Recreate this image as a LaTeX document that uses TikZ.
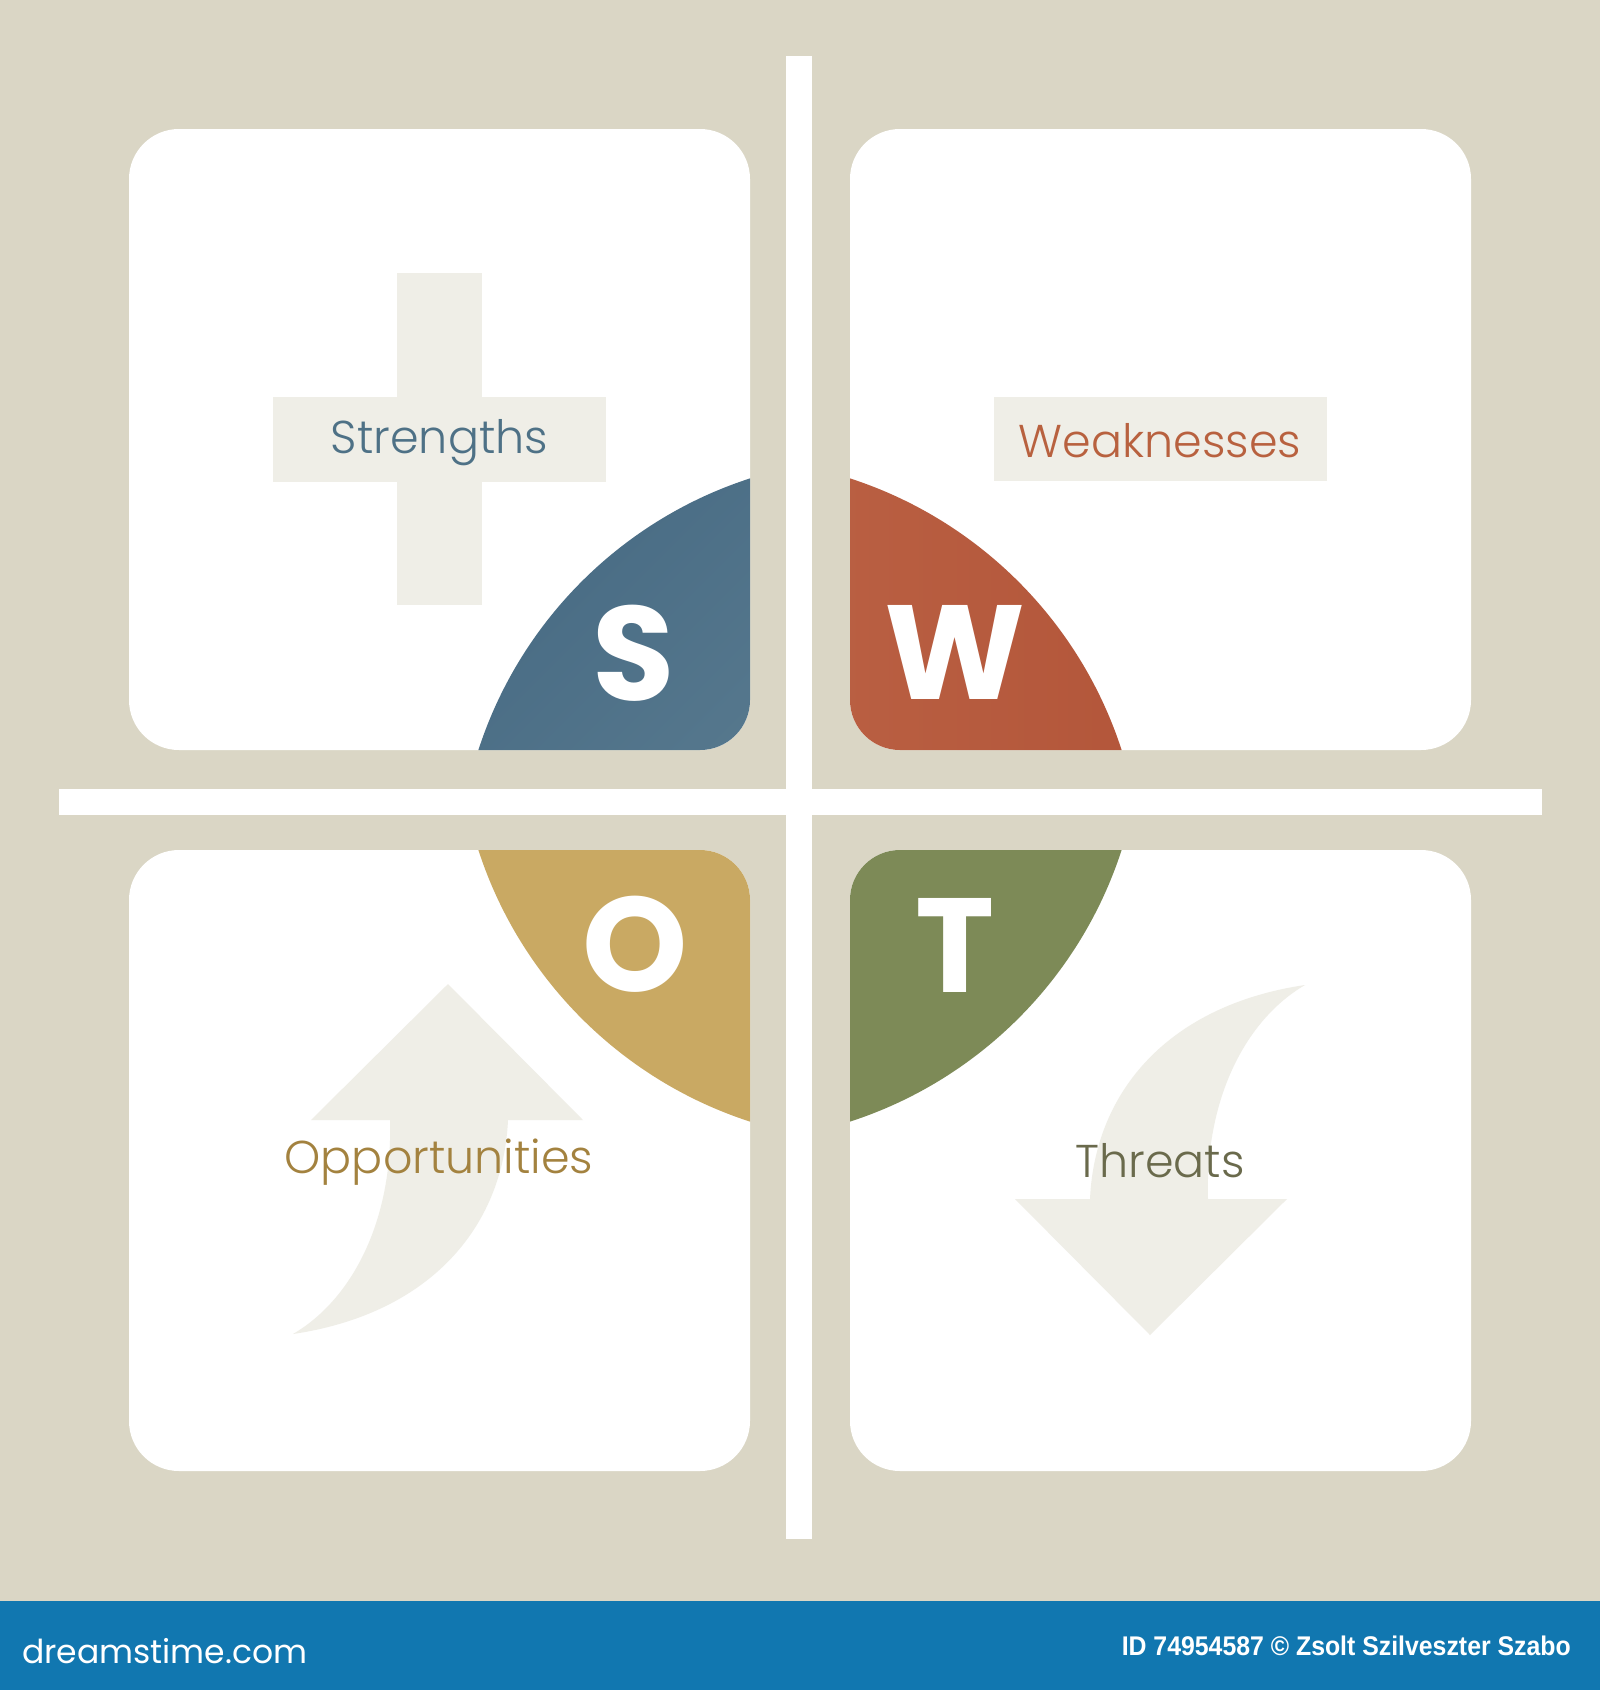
\documentclass[tikz,border=0pt]{standalone}
\usepackage{fontspec}
\newfontfamily\poplight{Poppins Light}
\newfontfamily\pop{Poppins}
\newfontfamily\idfont{Liberation Sans}
\definecolor{bgbeige}{HTML}{DAD6C5}
\definecolor{pale}{HTML}{EFEEE7}
\definecolor{sdark}{HTML}{4B6E86}
\definecolor{smid}{HTML}{4F7289}
\definecolor{slight}{HTML}{7291A0}
\definecolor{wleft}{HTML}{C46F50}
\definecolor{wright}{HTML}{B3563A}
\definecolor{ocol}{HTML}{C9A963}
\definecolor{tcol}{HTML}{7D8A57}
\definecolor{stxt}{HTML}{4E7186}
\definecolor{wtxt}{HTML}{B8613F}
\definecolor{otxt}{HTML}{A3823F}
\definecolor{ttxt}{HTML}{6A6A4C}
\definecolor{barblue}{HTML}{1177B0}
\begin{document}
\begin{tikzpicture}[x=1pt,y=-1pt,
  panel/.style={fill=white, rounded corners=50pt},
  label/.style={inner sep=0pt, anchor=base, font=\poplight\fontsize{46}{46}\selectfont},
  letter/.style={inner sep=0pt, anchor=base, text=white, font=\pop\bfseries\fontsize{134}{134}\selectfont},
  paleshape/.style={fill=pale}]
\useasboundingbox (0,0) rectangle (1600,1690);
\fill[bgbeige] (0,0) rectangle (1600,1690);
% dividing lines
\fill[white] (786,56) rectangle (812,1539);
\fill[white] (59,789) rectangle (1542,815);
% panels
\fill[panel] (129,129) rectangle (750,750);
\fill[panel] (850,129) rectangle (1471,750);
\fill[panel] (129,850) rectangle (750,1471);
\fill[panel] (850,850) rectangle (1471,1471);
% pale decorations
\fill[paleshape] (397,273) rectangle (482,605);
\fill[paleshape] (273,397) rectangle (606,482);
\fill[paleshape] (994,397) rectangle (1327,481);
\fill[paleshape] (1015,1199) -- (1090,1199) .. controls (1095,1090) and (1170,1005) .. (1305,985)
   .. controls (1245,1020) and (1205,1100) .. (1208,1199) -- (1287,1199) -- (1150,1335) -- cycle;
\fill[paleshape, rotate around={180:(799,1159.5)}] (1015,1199) -- (1090,1199) .. controls (1095,1090) and (1170,1005) .. (1305,985)
   .. controls (1245,1020) and (1205,1100) .. (1208,1199) -- (1287,1199) -- (1150,1335) -- cycle;
% quarter shapes
\begin{scope}
\clip[rounded corners=50pt] (129,129) rectangle (750,750);
\shade[shading=axis, top color=sdark, middle color=smid, bottom color=slight, shading angle=45] (880,880) circle[radius=422];
\end{scope}
\begin{scope}
\clip[rounded corners=50pt] (850,129) rectangle (1471,750);
\shade[left color=wleft, right color=wright] (720,880) circle[radius=422];
\end{scope}
\begin{scope}
\clip[rounded corners=50pt] (129,850) rectangle (750,1471);
\fill[ocol] (880,720) circle[radius=422];
\end{scope}
\begin{scope}
\clip[rounded corners=50pt] (850,850) rectangle (1471,1471);
\fill[tcol] (720,720) circle[radius=422];
\end{scope}
% letters
\node[letter] (S) at (634,700) {S};
\node[letter] (W) at (955,699) {W};
\node[letter] (O) at (635,991) {O};
\node[letter] (T) at (955,992) {T};
% labels
\node[label, text=stxt] (strengths) at (439.5,453) {Strengths};
\node[label, text=wtxt] (weak) at (1160,457) {Weaknesses};
\node[label, text=otxt] (opp) at (439,1173) {Opportunities};
\node[label, text=ttxt] (threats) at (1160,1177) {Threats};
% bottom bar
\fill[barblue] (0,1601) rectangle (1600,1690);
\node[inner sep=0pt, anchor=base west, text=white, font=\pop\fontsize{33}{33}\selectfont] (site) at (22,1663) {dreamstime.com};
\node[inner sep=0pt, anchor=base east, text=white, font=\idfont\bfseries\fontsize{27}{27}\selectfont] (credit) at (1571,1655) {\scalebox{0.92}[1]{ID 74954587 © Zsolt Szilveszter Szabo}};
\end{tikzpicture}
\end{document}
